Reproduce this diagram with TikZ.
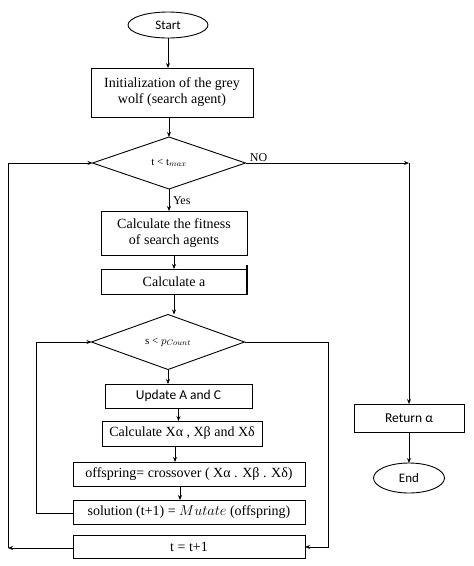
\documentclass[tikz,border=0pt]{standalone}
\usepackage{fontspec}
\setmainfont{Liberation Serif}
\newfontfamily\calfont{Carlito}
\usetikzlibrary{shapes.geometric,arrows.meta}
\begin{document}
\begin{tikzpicture}[x=1pt,y=-1pt,
  every node/.style={inner sep=0pt,outer sep=0pt},
  ln/.style={line width=0.9pt,draw=black},
  arr/.style={ln,-{Stealth[length=5pt,width=4pt]}},
  box/.style={ln,rectangle,align=center,font=\fontsize{14}{16}\selectfont},
  sbox/.style={ln,rectangle,align=center,font=\calfont\fontsize{13.5}{15}\selectfont},
  term/.style={ln,ellipse,font=\calfont\fontsize{13}{15}\selectfont},
  dec/.style={ln,diamond,font=\fontsize{11}{13}\selectfont},
  lab/.style={font=\fontsize{12}{14}\selectfont}]
\useasboundingbox (0,0) rectangle (474,566);
\node[term,minimum width=80pt,minimum height=26pt] (start) at (168,25) {Start};
\node[box,minimum width=162pt,minimum height=49pt] (init) at (172,92.5) {Initialization of the grey\\wolf (search agent)};
\node[dec,minimum width=153pt,minimum height=52pt] (d1) at (169,163) {t < t$_{max}$};
\node[box,minimum width=146pt,minimum height=44pt] (fit) at (174,233) {Calculate the fitness\\of search agents};
\node[box,minimum width=146pt,minimum height=25pt] (ca) at (174,281.5) {Calculate a};
\node[dec,minimum width=153pt,minimum height=55pt] (d2) at (168,342) {s < $p_{Count}$};
\node[sbox,minimum width=147pt,minimum height=24pt] (upd) at (178.5,396) {Update A and C};
\node[box,minimum width=160pt,minimum height=25pt] (cx) at (182,433.5) {Calculate Xα , Xβ and Xδ};
\node[box,minimum width=232pt,minimum height=24pt] (off) at (189,474) {offspring= crossover ( Xα . Xβ . Xδ)};
\node[box,minimum width=232pt,minimum height=24pt] (sol) at (189,512) {solution (t+1) = $Mutate$ (offspring)};
\node[box,minimum width=232pt,minimum height=23pt] (tt) at (189,546.5) {t = t+1};
\node[sbox,minimum width=110pt,minimum height=28pt] (ret) at (409,418) {Return α};
\node[term,minimum width=71pt,minimum height=30pt] (end) at (409,478) {End};
% shadow edge of "Calculate a"
\draw[line width=2pt] ([yshift=4pt]ca.north east) -- (ca.south east);
% main flow
\draw[arr] (start) -- (start |- init.north);
\draw[arr] (init.south -| d1.north) -- (d1.north);
\draw[arr] (d1.south) -- (d1.south |- fit.north) node[lab,pos=0.55,right=4pt] {Yes};
\draw[arr] (fit.south) -- (fit.south |- ca.north);
\draw[arr] (ca.south) -- (ca.south |- d2.north);
\draw[arr] (d2.south) -- (d2.south |- upd.north);
\draw[arr] (upd.south) -- (upd.south |- cx.north);
\draw[arr] ([xshift=-7pt]cx.south) -- ([xshift=-7pt]cx.south |- off.north);
\draw[arr] ([xshift=-9pt]off.south) -- ([xshift=-9pt]off.south |- sol.north);
% NO branch
\coordinate (cR) at (ret.north |- d1.east);
\draw[arr] (d1.east) -- (cR) node[lab,pos=0.08,above=1pt] {NO};
\draw[arr] (cR) -- (ret.north);
\draw[arr] (ret.south) -- (end.north);
% outer loop
\coordinate (oL) at (8,548);
\coordinate (oT) at (8,163);
\draw[arr] (tt.west |- oL) -- (oL);
\draw[arr] (oL) -- (oT) -- (d1.west);
% inner loop
\coordinate (iR1) at (328,342);
\coordinate (iR2) at (328,547);
\draw[arr] (d2.east) -- (iR1) -- (iR2) -- (tt.east |- iR2);
\coordinate (iL1) at (36,513);
\coordinate (iL2) at (36,342);
\draw[arr] (sol.west |- iL1) -- (iL1) -- (iL2) -- (d2.west);
\end{tikzpicture}
\end{document}
